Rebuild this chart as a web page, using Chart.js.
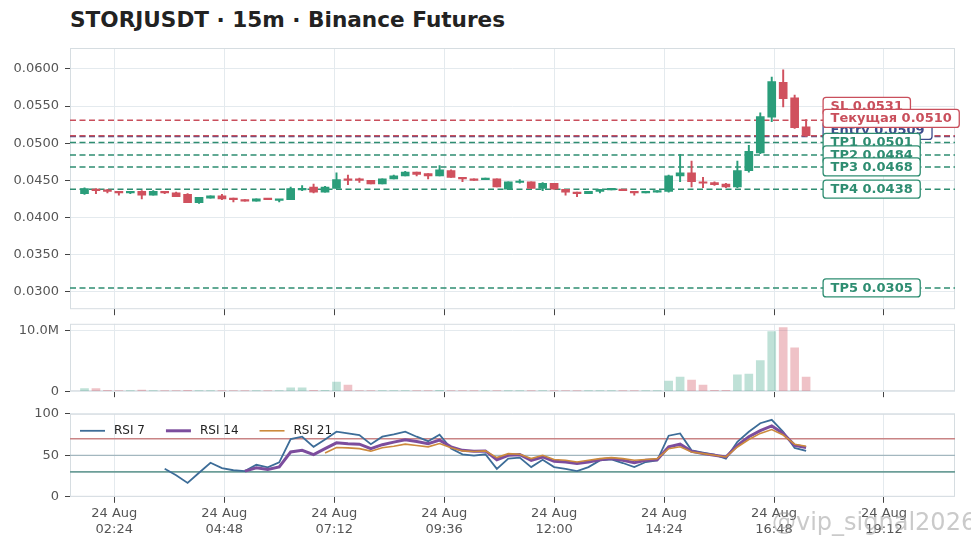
<!DOCTYPE html>
<html lang="en">
<head>
    <meta charset="UTF-8">
    <meta name="viewport" content="width=device-width, initial-scale=1.0">
    <title>STORJUSDT · 15m · Binance Futures</title>
    <!-- Include Chart.js library -->
    <script src="https://cdn.jsdelivr.net/npm/chart.js"></script>
    <style>
        body { margin: 0; background: #fff; font-family: 'DejaVu Sans', sans-serif; }
        h1 { position: absolute; left: 70px; top: 7px; margin: 0; font-size: 21.6px; color: #222; }
        canvas { position: absolute; left: 0; }
        .watermark { position: absolute; left: 772px; top: 508px; font-size: 24px; color: rgba(150, 150, 150, 0.5); }
    </style>
</head>
<body>
    <h1>STORJUSDT · 15m · Binance Futures</h1>

    <!-- three stacked panels: price, volume, RSI (canvases overlap a little, they are transparent) -->
    <canvas id="priceChart" width="971" height="323" style="top:0"></canvas>
    <canvas id="volumeChart" width="971" height="95" style="top:310px"></canvas>
    <canvas id="rsiChart" width="971" height="148" style="top:400px"></canvas>
    <div class="watermark">@vip_signal2026</div>

    <script>
        // 15m candles on 24 Aug, first one opens at 01:45 (minutes after midnight)
        const firstCandle = 105;
        const candleStep = 15;
        const times = Array.from({ length: 64 }, (_, i) => firstCandle + i * candleStep);

        const opens = [
            0.0432, 0.0438, 0.0437, 0.0434, 0.0433, 0.0435, 0.0430, 0.0434, 0.0433, 0.0431,
            0.0420, 0.0426, 0.0429, 0.0426, 0.0424, 0.0422, 0.0425, 0.0423, 0.0424, 0.0437,
            0.0441, 0.0434, 0.0439, 0.0452, 0.0451, 0.0450, 0.0445, 0.0452, 0.0456, 0.0461,
            0.0459, 0.0456, 0.0463, 0.0454, 0.0452, 0.0451, 0.0452, 0.0438, 0.0447, 0.0448,
            0.0439, 0.0446, 0.0438, 0.0434, 0.0432, 0.0435, 0.0437, 0.0438, 0.0435, 0.0433,
            0.0434, 0.0435, 0.0456, 0.0460, 0.0448, 0.0447, 0.0445, 0.0441, 0.0463, 0.0487,
            0.0535, 0.0582, 0.0561, 0.0522
        ];
        const highs = [
            0.0440, 0.0439, 0.0438, 0.0435, 0.0435, 0.0436, 0.0436, 0.0435, 0.0434, 0.0432,
            0.0427, 0.0429, 0.0431, 0.0426, 0.0424, 0.0425, 0.0425, 0.0424, 0.0441, 0.0443,
            0.0445, 0.0442, 0.0460, 0.0457, 0.0453, 0.0450, 0.0452, 0.0457, 0.0462, 0.0461,
            0.0459, 0.0470, 0.0464, 0.0454, 0.0452, 0.0453, 0.0452, 0.0448, 0.0451, 0.0448,
            0.0447, 0.0446, 0.0438, 0.0434, 0.0435, 0.0438, 0.0438, 0.0438, 0.0435, 0.0435,
            0.0436, 0.0457, 0.0485, 0.0476, 0.0454, 0.0448, 0.0446, 0.0476, 0.0497, 0.0541,
            0.0589, 0.0599, 0.0565, 0.0532
        ];
        const lows = [
            0.0431, 0.0432, 0.0433, 0.0430, 0.0432, 0.0425, 0.0430, 0.0432, 0.0428, 0.0420,
            0.0419, 0.0426, 0.0424, 0.0421, 0.0422, 0.0422, 0.0424, 0.0421, 0.0424, 0.0436,
            0.0433, 0.0434, 0.0439, 0.0444, 0.0447, 0.0445, 0.0445, 0.0452, 0.0456, 0.0456,
            0.0452, 0.0456, 0.0454, 0.0448, 0.0450, 0.0451, 0.0441, 0.0438, 0.0446, 0.0439,
            0.0436, 0.0438, 0.0430, 0.0428, 0.0432, 0.0433, 0.0437, 0.0436, 0.0430, 0.0433,
            0.0434, 0.0434, 0.0448, 0.0441, 0.0440, 0.0443, 0.0440, 0.0440, 0.0461, 0.0486,
            0.0529, 0.0549, 0.0520, 0.0509
        ];
        const closes = [
            0.0439, 0.0436, 0.0435, 0.0433, 0.0434, 0.0430, 0.0435, 0.0433, 0.0428, 0.0420,
            0.0427, 0.0429, 0.0425, 0.0424, 0.0422, 0.0425, 0.0424, 0.0424, 0.0439, 0.0438,
            0.0434, 0.0441, 0.0451, 0.0450, 0.0450, 0.0445, 0.0452, 0.0456, 0.0461, 0.0458,
            0.0456, 0.0464, 0.0454, 0.0452, 0.0450, 0.0452, 0.0441, 0.0448, 0.0449, 0.0439,
            0.0446, 0.0438, 0.0434, 0.0432, 0.0435, 0.0438, 0.0438, 0.0436, 0.0433, 0.0435,
            0.0436, 0.0456, 0.0460, 0.0448, 0.0446, 0.0444, 0.0441, 0.0463, 0.0489, 0.0536,
            0.0583, 0.0560, 0.0521, 0.0510
        ];

        // volume in millions
        const volumes = [
            0.45, 0.45, 0.15, 0.10, 0.05, 0.20, 0.05, 0.05, 0.08, 0.15,
            0.05, 0.05, 0.05, 0.08, 0.03, 0.04, 0.05, 0.06, 0.55, 0.55,
            0.15, 0.15, 1.50, 1.00, 0.12, 0.10, 0.12, 0.12, 0.10, 0.12,
            0.10, 0.15, 0.10, 0.12, 0.05, 0.08, 0.12, 0.05, 0.04, 0.05,
            0.12, 0.05, 0.12, 0.05, 0.04, 0.05, 0.04, 0.05, 0.06, 0.04,
            0.05, 1.68, 2.34, 1.84, 1.00, 0.15, 0.15, 2.73, 2.85, 5.08,
            9.88, 10.55, 7.20, 2.34
        ];

        const rsi7 = [
            null, null, null, null, null, null, null, 33.7, 26, 16.7,
            29, 41, 34.5, 32, 30.9, 38.6, 35.4, 41.5, 69.5, 72.4,
            60.2, 69.1, 78.4, 76.4, 74.4, 63.4, 72.4, 75.2, 78.4, 72.4,
            67, 74.8, 58.1, 51.2, 49.6, 51.2, 33.7, 46, 47.2, 35.8,
            44.7, 35.8, 33.7, 30.9, 35.8, 43.9, 45.1, 40.7, 35.8, 41.9,
            43.9, 73.6, 76.4, 56, 53.3, 50.8, 46, 66.3, 78.4, 88.6,
            92.7, 78.4, 58.9, 55.3
        ];
        const rsi14 = [
            null, null, null, null, null, null, null, null, null, null,
            null, null, null, null, 31, 35, 33, 36, 54, 56,
            50.8, 58, 65, 64, 63.4, 58, 62.8, 65.9, 68.7, 66.7,
            64, 68.3, 60.2, 56, 54.9, 55.3, 44.7, 50, 50.8, 44,
            48, 42.7, 42, 40, 42, 44.7, 46, 44, 41.2, 44,
            44.7, 60.2, 63.4, 54.9, 52, 50, 48, 62, 72.4, 79.7,
            85.4, 76.4, 62, 59.4
        ];
        const rsi21 = [
            null, null, null, null, null, null, null, null, null, null,
            null, null, null, null, null, null, null, null, null, null,
            null, 52.8, 59.4, 59, 58, 55, 59, 61, 63.4, 61.8,
            60.2, 64.2, 59, 55.3, 54.5, 55.3, 47.2, 52, 51.2, 46,
            50, 45, 44, 42, 44, 46, 47.2, 46, 44, 45,
            46, 58, 60.2, 54, 52, 50, 48, 60, 69, 76.4,
            81, 74.4, 63.4, 61
        ];

        // trade levels drawn across the price panel
        const levelNames = ['SL', 'Текущая', 'Entry', 'TP1', 'TP2', 'TP3', 'TP4', 'TP5'];
        const levelValues = [0.0531, 0.0510, 0.0509, 0.0501, 0.0484, 0.0468, 0.0438, 0.0305];
        const rsiLevels = [70, 50, 30];

        // tick positions
        const timeTicks = [144, 288, 432, 576, 720, 864, 1008, 1152]; // 02:24 ... 19:12
        const priceTicks = [0.030, 0.035, 0.040, 0.045, 0.050, 0.055, 0.060];
        const volumeTicks = [0, 10];
        const rsiTicks = [0, 50, 100];

        // colours
        const GREEN = '#2a9d7a';
        const RED = '#d0515e';
        const GRID = '#e4eaee';
        const FRAME = '#d6dde1';
        const levelColors = { SL: '#c94f5c', 'Текущая': '#c94f5c', Entry: '#3c4c8b', TP: '#2e8d71' };
        const rsiLevelColors = ['#c98485', '#a3b7bf', '#6c9e98'];

        const candleColors = closes.map((c, i) => c >= opens[i] ? GREEN : RED);
        const volumeColors = closes.map((c, i) => c >= opens[i] ? 'rgba(42,157,122,0.3)' : 'rgba(208,81,94,0.35)');

        Chart.defaults.font.family = "'DejaVu Sans', sans-serif";
        Chart.defaults.font.size = 13;
        Chart.defaults.color = '#555';
        Chart.defaults.animation = false;

        function hhmm(m) {
            const h = Math.floor(m / 60), mm = m % 60;
            return String(h).padStart(2, '0') + ':' + String(mm).padStart(2, '0');
        }

        function levelColor(name) {
            return name.startsWith('TP') ? levelColors.TP : levelColors[name];
        }

        // current price goes on top of everything else
        const currentIdx = levelNames.indexOf('Текущая');
        const levelDrawOrder = levelNames.map((n, i) => i).filter(i => i !== currentIdx).concat([currentIdx]);

        // shared x axis (minutes), only the RSI panel shows labels
        function timeAxis(showLabels) {
            return {
                type: 'linear',
                min: 86,
                max: 1245,
                offset: false,
                grid: { offset: false, color: GRID, tickColor: '#444', tickLength: 6 },
                border: { display: false },
                afterBuildTicks: axis => { axis.ticks = timeTicks.map(v => ({ value: v })); },
                ticks: {
                    display: showLabels,
                    maxRotation: 0,
                    autoSkip: false,
                    padding: 3,
                    callback: v => ['24 Aug', hhmm(v)]
                }
            };
        }

        function valueAxis(min, max, tickList, format) {
            return {
                min: min,
                max: max,
                grid: { color: GRID, tickColor: '#444', tickLength: 5 },
                border: { display: false },
                afterBuildTicks: axis => { axis.ticks = tickList.map(v => ({ value: v })); },
                afterFit: axis => { axis.width = 70; },
                ticks: { padding: 6, callback: format }
            };
        }

        // light frame round every panel
        const framePlugin = {
            id: 'frame',
            beforeDatasetsDraw(chart) {
                const { ctx, chartArea: a } = chart;
                ctx.save();
                ctx.strokeStyle = FRAME;
                ctx.lineWidth = 1;
                ctx.strokeRect(a.left + 0.5, a.top + 0.5, a.width - 1, a.height - 1);
                ctx.restore();
            }
        };

        // dashed SL / entry / TP lines with their label boxes
        const levelsPlugin = {
            id: 'levels',
            beforeDatasetsDraw(chart) {
                const { ctx, chartArea: a, scales: { y } } = chart;
                ctx.save();
                ctx.setLineDash([6, 3.5]);
                ctx.lineWidth = 1.5;
                levelDrawOrder.forEach(i => {
                    const py = y.getPixelForValue(levelValues[i]);
                    ctx.strokeStyle = levelColor(levelNames[i]);
                    ctx.beginPath();
                    ctx.moveTo(a.left, py);
                    ctx.lineTo(a.right, py);
                    ctx.stroke();
                });
                ctx.restore();
            },
            afterDatasetsDraw(chart) {
                const { ctx, scales: { x, y } } = chart;
                const boxLeft = x.getPixelForValue(times[times.length - 1]) + 17;

                // push labels upward so they keep a minimum gap
                const byValue = levelValues.map((v, i) => i).sort((a, b) => levelValues[a] - levelValues[b]);
                const labelY = [];
                let prev = Infinity;
                byValue.forEach(i => {
                    labelY[i] = Math.min(y.getPixelForValue(levelValues[i]), prev - 12);
                    prev = labelY[i];
                });

                ctx.save();
                ctx.font = "bold 13px 'DejaVu Sans', sans-serif";
                ctx.textBaseline = 'middle';
                levelDrawOrder.forEach(i => {
                    const text = levelNames[i] + ' ' + levelValues[i].toFixed(4);
                    const w = ctx.measureText(text).width + 15;
                    const col = levelColor(levelNames[i]);
                    ctx.beginPath();
                    ctx.roundRect(boxLeft, labelY[i] - 9, w, 18, 3);
                    ctx.fillStyle = '#fff';
                    ctx.fill();
                    ctx.strokeStyle = col;
                    ctx.lineWidth = 1.3;
                    ctx.stroke();
                    ctx.fillStyle = col;
                    ctx.fillText(text, boxLeft + 7.5, labelY[i] + 0.5);
                });
                ctx.restore();
            }
        };

        // RSI guide lines and legend
        const rsiPlugin = {
            id: 'rsiExtras',
            beforeDatasetsDraw(chart) {
                const { ctx, chartArea: a, scales: { y } } = chart;
                ctx.save();
                rsiLevels.forEach((lvl, i) => {
                    const py = y.getPixelForValue(lvl);
                    ctx.strokeStyle = rsiLevelColors[i];
                    ctx.lineWidth = i === 1 ? 1.2 : 1.6;
                    ctx.beginPath();
                    ctx.moveTo(a.left, py);
                    ctx.lineTo(a.right, py);
                    ctx.stroke();
                });
                ctx.restore();
            },
            afterDatasetsDraw(chart) {
                const { ctx, chartArea: a } = chart;
                const ly = a.top + 17;
                let lx = a.left + 10;
                ctx.save();
                ctx.font = "12px 'DejaVu Sans', sans-serif";
                ctx.textBaseline = 'middle';
                chart.data.datasets.forEach(ds => {
                    ctx.strokeStyle = ds.borderColor;
                    ctx.lineWidth = ds.borderWidth;
                    ctx.beginPath();
                    ctx.moveTo(lx, ly);
                    ctx.lineTo(lx + 25, ly);
                    ctx.stroke();
                    ctx.fillStyle = '#222';
                    ctx.fillText(ds.label, lx + 34, ly);
                    lx += 34 + ctx.measureText(ds.label).width + 21;
                });
                ctx.restore();
            }
        };

        const commonPlugins = { legend: { display: false }, tooltip: { enabled: false } };

        // price panel: floating bars for bodies and wicks
        new Chart(document.getElementById('priceChart'), {
            type: 'bar',
            data: {
                datasets: [{
                    label: 'body',
                    order: 1,
                    data: times.map((t, i) => ({ x: t, y: [opens[i], closes[i]] })),
                    backgroundColor: candleColors,
                    barThickness: 8,
                    minBarLength: 1.5,
                    grouped: false
                }, {
                    label: 'wick',
                    order: 2,
                    data: times.map((t, i) => ({ x: t, y: [lows[i], highs[i]] })),
                    backgroundColor: candleColors,
                    barThickness: 1.3,
                    grouped: false
                }]
            },
            options: {
                responsive: false,
                layout: { padding: { top: 48, right: 16, bottom: 0, left: 0 } },
                scales: {
                    x: timeAxis(false),
                    y: valueAxis(0.02763, 0.06283, priceTicks, v => v.toFixed(4))
                },
                plugins: commonPlugins
            },
            plugins: [framePlugin, levelsPlugin]
        });

        // volume panel
        new Chart(document.getElementById('volumeChart'), {
            type: 'bar',
            data: {
                datasets: [{
                    label: 'Volume',
                    data: times.map((t, i) => ({ x: t, y: volumes[i] })),
                    backgroundColor: volumeColors,
                    barThickness: 8,
                    grouped: false
                }]
            },
            options: {
                responsive: false,
                layout: { padding: { top: 0, right: 16, bottom: 0, left: 0 } },
                scales: {
                    x: timeAxis(false),
                    y: valueAxis(0, 11.17, volumeTicks, v => v === 0 ? '0' : v.toFixed(1) + 'M')
                },
                plugins: commonPlugins
            },
            plugins: [framePlugin]
        });

        // RSI panel
        const rsiSeries = [
            { label: 'RSI 7', values: rsi7, color: '#3d6d98', width: 1.8, order: 3 },
            { label: 'RSI 14', values: rsi14, color: '#7c4d9d', width: 3, order: 2 },
            { label: 'RSI 21', values: rsi21, color: '#cc8a3c', width: 1.6, order: 1 }
        ];

        new Chart(document.getElementById('rsiChart'), {
            type: 'line',
            data: {
                datasets: rsiSeries.map(s => ({
                    label: s.label,
                    order: s.order,
                    data: times.map((t, i) => ({ x: t, y: s.values[i] })),
                    borderColor: s.color,
                    borderWidth: s.width,
                    pointRadius: 0,
                    tension: 0,
                    fill: false
                }))
            },
            options: {
                responsive: false,
                layout: { padding: { top: 0, right: 16, bottom: 8, left: 0 } },
                scales: {
                    x: timeAxis(true),
                    y: valueAxis(0, 100, rsiTicks, v => String(v))
                },
                plugins: commonPlugins
            },
            plugins: [framePlugin, rsiPlugin]
        });
    </script>
</body>
</html>
